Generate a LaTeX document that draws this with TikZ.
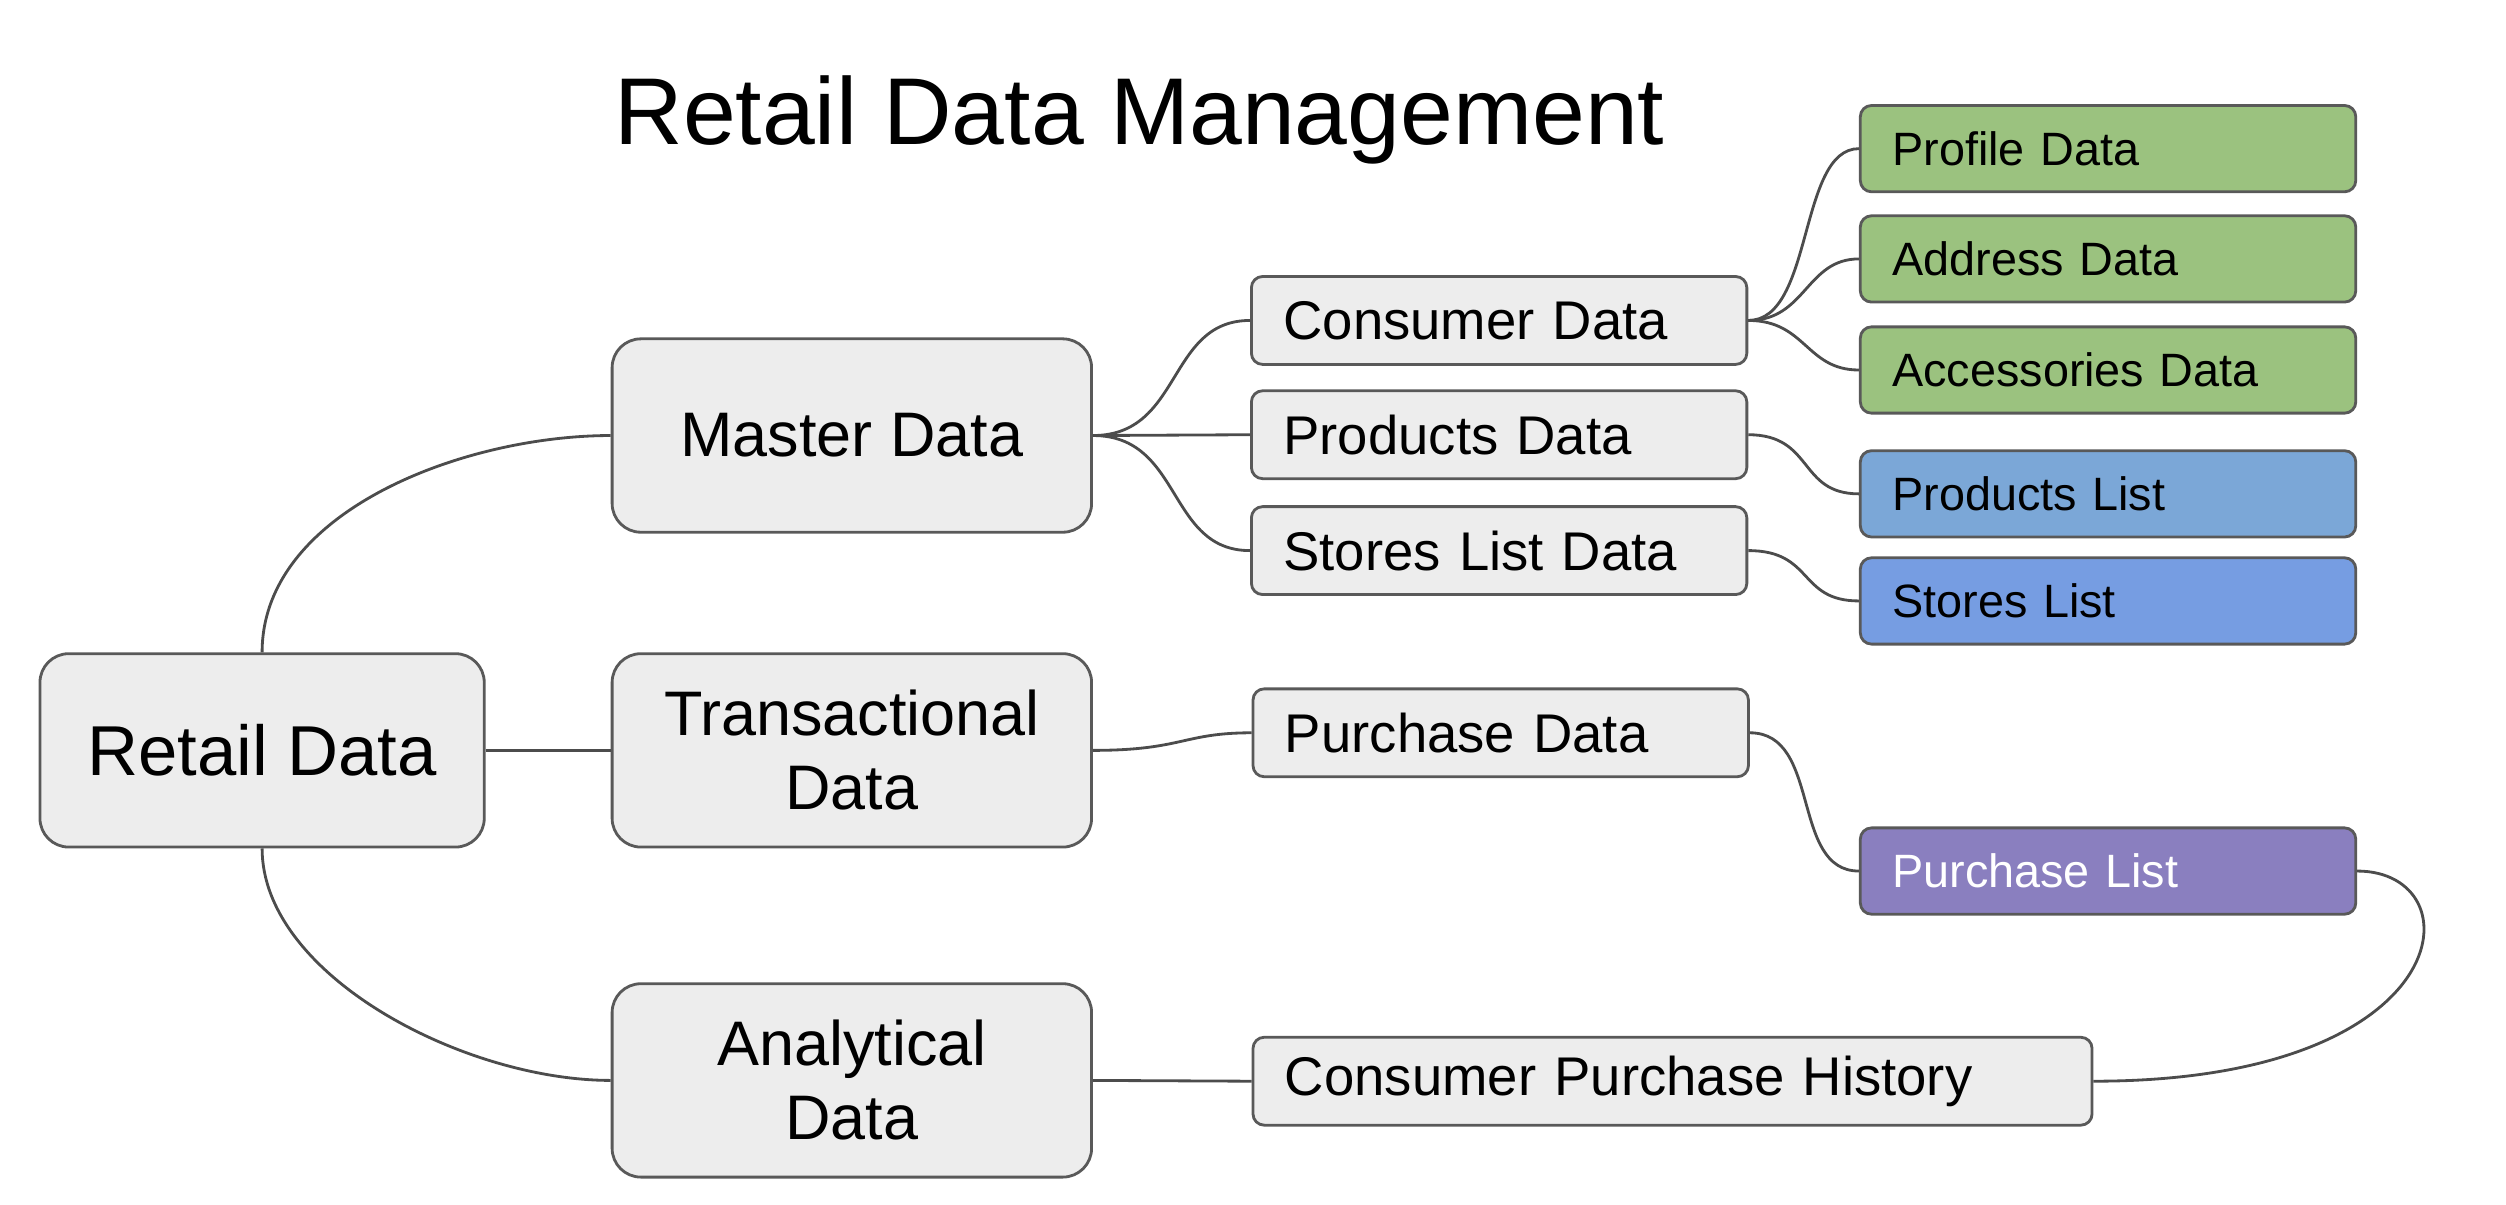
\documentclass[tikz,border=0pt]{standalone}
\usepackage{fontspec}
\setmainfont{Liberation Sans}
\begin{document}
\def\U{0.015982cm}
\begin{tikzpicture}[x=0.015982cm,y=-0.015982cm,
  big/.style={draw=black!65,fill=black!7,line width=0.8pt,rounded corners=18*\U,minimum width=300*\U,minimum height=121*\U,align=center,font=\fontsize{17.9}{21}\selectfont,inner sep=0pt},
  mid/.style={draw=black!65,fill=black!7,line width=0.8pt,rounded corners=7*\U,text width=#1*\U-40*\U,inner xsep=20*\U,minimum height=55*\U,align=left,font=\fontsize{15.5}{18}\selectfont,inner ysep=0pt},
  leaf/.style={draw=black!65,fill=#1,line width=0.8pt,rounded corners=7*\U,text width=270*\U,inner xsep=20*\U,minimum height=54*\U,align=left,font=\fontsize{13.3}{16}\selectfont,inner ysep=0pt},
  con/.style={draw=black!70,line width=0.8pt}]
\useasboundingbox (0,0) rectangle (1568,753.4);
\definecolor{gr}{HTML}{9BC27F}
\definecolor{bl1}{HTML}{7BA7D7}
\definecolor{bl2}{HTML}{769DE2}
\definecolor{pu}{HTML}{8A7FBF}
\node[font=\fontsize{27}{32}\selectfont] (title) at (713,75) {Retail Data Management};
\node[big,minimum width=278*\U,font=\fontsize{20.1}{24}\selectfont] (rd) at (164,469.5) {Retail Data};
\node[big] (md) at (533,272.5) {Master Data};
\node[big] (td) at (533,469.5) {Transactional\\Data};
\node[big] (ad) at (533,676) {Analytical\\Data};
\node[mid=310] (cd) at (938,200.5) {Consumer Data};
\node[mid=310] (pd) at (938,272) {Products Data};
\node[mid=310] (sd) at (938,344.5) {Stores List Data};
\node[mid=310] (pud) at (939,458.5) {Purchase Data};
\node[mid=525] (cph) at (1046.5,676.5) {Consumer Purchase History};
\node[leaf=gr] (pf) at (1319,93) {Profile Data};
\node[leaf=gr] (adr) at (1319,162) {Address Data};
\node[leaf=gr] (acc) at (1319,231.5) {Accessories Data};
\node[leaf=bl1] (pl) at (1319,309) {Products List};
\node[leaf=bl2] (sl) at (1319,376) {Stores List};
\node[leaf=pu,text=white] (pul) at (1319,545) {Purchase List};
\draw[con] (rd.north) .. controls (164,320) and (290,272.5) .. (md.west);
\draw[con] (rd.south) .. controls (164,610) and (290,676) .. (ad.west);
\draw[con] (rd.east) -- (td.west);
\draw[con] (md.east) .. controls (740,272.5) and (730,200.5) .. (cd.west);
\draw[con] (md.east) -- (pd.west);
\draw[con] (md.east) .. controls (740,272.5) and (730,344.5) .. (sd.west);
\draw[con] (td.east) .. controls (740,469.5) and (740,458.5) .. (pud.west);
\draw[con] (ad.east) -- (cph.west);
\draw[con] (cd.east) .. controls (1135,200.5) and (1125,93) .. (pf.west);
\draw[con] (cd.east) .. controls (1130,200.5) and (1130,162) .. (adr.west);
\draw[con] (cd.east) .. controls (1130,200.5) and (1130,231.5) .. (acc.west);
\draw[con] (pd.east) .. controls (1135,272) and (1125,309) .. (pl.west);
\draw[con] (sd.east) .. controls (1135,344.5) and (1125,376) .. (sl.west);
\draw[con] (pud.east) .. controls (1140,458.5) and (1120,545) .. (pul.west);
\draw[con] (pul.east) .. controls (1550,545) and (1540,676.5) .. (cph.east);
\end{tikzpicture}
\end{document}
